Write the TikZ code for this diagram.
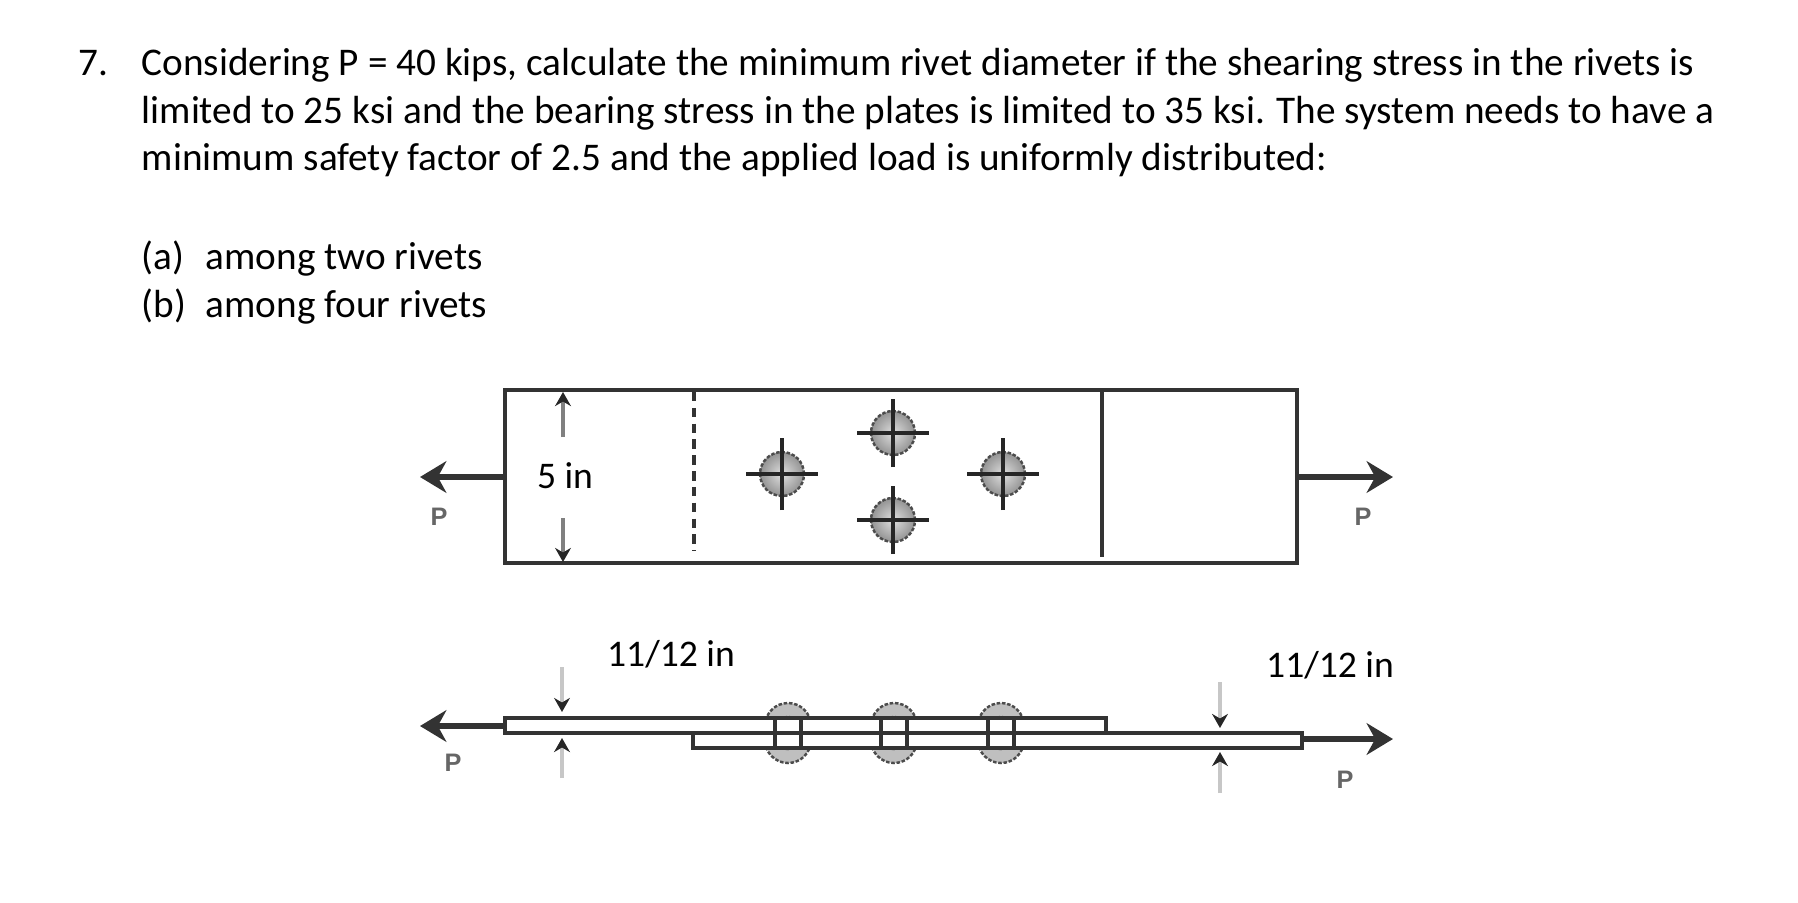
\documentclass[tikz,border=0pt]{standalone}
\usepackage{fontspec}
\setmainfont{Carlito}
\newfontfamily\labelfont{Liberation Sans}
\usetikzlibrary{arrows.meta}
\tikzset{
  prose/.style={anchor=base west, inner sep=0pt, font=\fontsize{11.16pt}{13.6pt}\selectfont},
  dimtext/.style={inner sep=0pt, font=\fontsize{10.7pt}{13pt}\selectfont},
  plate/.style={draw=black!80, line width=0.9pt, fill=white},
  rivethole/.style={draw=black!70, dash pattern=on 1pt off 0.5pt, line width=0.7pt, inner color=gray!25, outer color=gray!85},
  rivetcap/.style={draw=black!70, dash pattern=on 1pt off 0.5pt, line width=0.7pt, fill=gray!50},
  crosshair/.style={draw=black!85, line width=0.9pt},
  loadline/.style={draw=black!80, line width=1.6pt, -{Stealth[length=7.5pt, width=9pt]}},
  dimline/.style={draw=black!50, line width=0.9pt, -{Stealth[length=4pt, width=4.5pt, black!85]}},
  palethick/.style={draw=black!22, line width=1.4pt, -{Stealth[length=4pt, width=4.5pt, black!85]}},
  loadname/.style={font=\labelfont\bfseries\fontsize{7.2pt}{9pt}\selectfont, text=black!60, inner sep=0pt}
}
\begin{document}
\begin{tikzpicture}
      \useasboundingbox (0, 0) rectangle (17.98, 9.02);
      % question text
      \draw (0.78, 8.27) node (num) [prose] {7.}
            (1.41, 8.27) node (lineone) [prose] {Considering P = 40 kips, calculate the minimum rivet diameter if the shearing stress in the rivets is}
            (1.41, 7.79) node (linetwo) [prose] {limited to 25 ksi and the bearing stress in the plates is limited to 35 ksi. The system needs to have a}
            (1.41, 7.32) node (linethree) [prose] {minimum safety factor of 2.5 and the applied load is uniformly distributed:}
            (1.41, 6.33) node (parta) [prose] {(a)}
            (2.05, 6.33) node (amonga) [prose] {among two rivets}
            (1.41, 5.85) node (partb) [prose] {(b)}
            (2.05, 5.85) node (amongb) [prose] {among four rivets};
      % top view
      \draw [plate] (5.05, 3.39) rectangle (12.97, 5.12);
      \draw [draw=black!80, line width=0.9pt] (11.02, 5.12) -- (11.02, 3.45);
      \draw [draw=black!80, line width=0.9pt, dash pattern=on 2.7pt off 1.8pt] (6.94, 5.10) -- (6.94, 3.51);
      \draw [rivethole] (7.82, 4.28) circle (0.22);
      \draw [rivethole] (8.93, 4.69) circle (0.22);
      \draw [rivethole] (8.93, 3.82) circle (0.22);
      \draw [rivethole] (10.03, 4.28) circle (0.22);
      \draw [crosshair] (7.46, 4.28) -- (8.18, 4.28) (7.82, 3.92) -- (7.82, 4.64)
                        (8.57, 4.69) -- (9.29, 4.69) (8.93, 4.35) -- (8.93, 5.03)
                        (8.57, 3.82) -- (9.29, 3.82) (8.93, 3.48) -- (8.93, 4.16)
                        (9.67, 4.28) -- (10.39, 4.28) (10.03, 3.92) -- (10.03, 4.64);
      \draw (5.65, 4.26) node (width) [dimtext] {5 in}
            (4.39, 3.85) node (pa) [loadname] {P}
            (13.63, 3.85) node (pb) [loadname] {P};
      \draw (5.05, 4.25) coordinate (astart) (4.20, 4.25) coordinate (aend)
            (12.97, 4.25) coordinate (bstart) (13.93, 4.25) coordinate (bend)
            (5.63, 4.65) coordinate (wa) (5.63, 5.10) coordinate (wb)
            (5.63, 3.84) coordinate (wc) (5.63, 3.40) coordinate (wd);
      \draw [loadline] (astart) -- (aend);
      \draw [loadline] (bstart) -- (bend);
      \draw [dimline] (wa) -- (wb);
      \draw [dimline] (wc) -- (wd);
      % side view
      \draw [rivetcap] (7.88, 1.76) circle (0.23) (7.88, 1.62) circle (0.23)
                       (8.94, 1.76) circle (0.23) (8.94, 1.62) circle (0.23)
                       (10.01, 1.76) circle (0.23) (10.01, 1.62) circle (0.23);
      \draw [plate] (6.93, 1.54) rectangle (13.02, 1.69);
      \draw [plate] (5.05, 1.69) rectangle (11.06, 1.84);
      \draw [plate] (7.75, 1.54) rectangle (8.01, 1.84)
                    (8.81, 1.54) rectangle (9.07, 1.84)
                    (9.88, 1.54) rectangle (10.14, 1.84);
      \draw [draw=black!80, line width=0.9pt] (7.75, 1.69) -- (8.01, 1.69)
                    (8.81, 1.69) -- (9.07, 1.69)
                    (9.88, 1.69) -- (10.14, 1.69);
      \draw (6.71, 2.48) node (thicka) [dimtext] {11/12 in}
            (13.30, 2.37) node (thickb) [dimtext] {11/12 in}
            (4.53, 1.39) node (pc) [loadname] {P}
            (13.45, 1.22) node (pd) [loadname] {P};
      \draw (5.05, 1.76) coordinate (cstart) (4.20, 1.76) coordinate (cend)
            (13.02, 1.63) coordinate (dstart) (13.93, 1.63) coordinate (dend)
            (5.62, 2.35) coordinate (ta) (5.62, 1.90) coordinate (tb)
            (5.62, 1.24) coordinate (tc) (5.62, 1.64) coordinate (td)
            (12.20, 2.20) coordinate (te) (12.20, 1.74) coordinate (tf)
            (12.20, 1.09) coordinate (tg) (12.20, 1.50) coordinate (th);
      \draw [loadline] (cstart) -- (cend);
      \draw [loadline] (dstart) -- (dend);
      \draw [palethick] (ta) -- (tb);
      \draw [palethick] (tc) -- (td);
      \draw [palethick] (te) -- (tf);
      \draw [palethick] (tg) -- (th);
\end{tikzpicture}
\end{document}
